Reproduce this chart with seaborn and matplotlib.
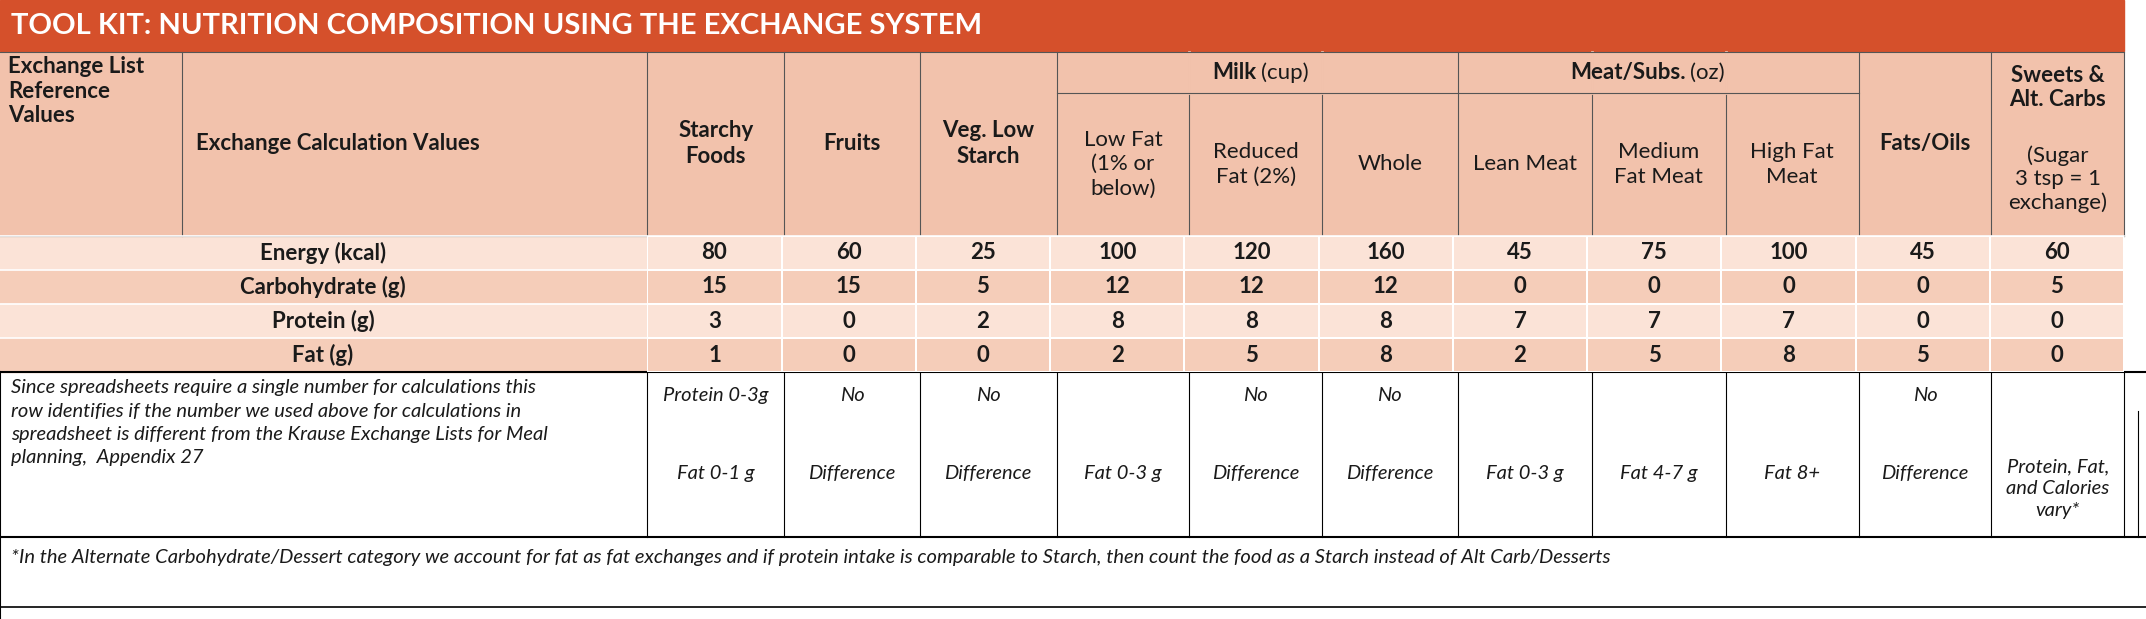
import matplotlib.pyplot as plt
import seaborn as sns
import numpy as np
from matplotlib.colors import ListedColormap
from matplotlib.patches import Rectangle

plt.rcParams['font.family'] = 'Lato'

# data
columns = ['Starchy\nFoods', 'Fruits', 'Veg. Low\nStarch', 'Low Fat\n(1% or\nbelow)', 'Reduced\nFat (2%)',
           'Whole', 'Lean Meat', 'Medium\nFat Meat', 'High Fat\nMeat', 'Fats/Oils', 'Sweets']
row_labels = ['Energy (kcal)', 'Carbohydrate (g)', 'Protein (g)', 'Fat (g)']
energy = [80, 60, 25, 100, 120, 160, 45, 75, 100, 45, 60]
carbs = [15, 15, 5, 12, 12, 12, 0, 0, 0, 0, 5]
protein = [3, 0, 2, 8, 8, 8, 7, 7, 7, 0, 0]
fat = [1, 0, 0, 2, 5, 8, 2, 5, 8, 5, 0]
note_top = ['Protein 0-3g', 'No', 'No', '', 'No', 'No', '', '', '', 'No', '']
note_bottom = ['Fat 0-1 g', 'Difference', 'Difference', 'Fat 0-3 g', 'Difference', 'Difference',
               'Fat 0-3 g', 'Fat 4-7 g', 'Fat 8+', 'Difference', '']

W, H = 1568, 452
col_x = [473, 573, 672, 772, 869, 966, 1065, 1163, 1261, 1358, 1455, 1552]
ORANGE = '#D5502B'
HEAD = '#F2C2AC'
LIGHT = '#FBE3D7'
DARK = '#F5CDB9'
TXT = '#1a1a1a'
FS = 16
FN = 14.5

fig = plt.figure(figsize=(21.46, 6.19), dpi=100)
ax = fig.add_axes([0, 0, 1, 1])
ax.set_xlim(0, W)
ax.set_ylim(H, 0)
ax.axis('off')

# title bar
ax.add_patch(Rectangle((0, 0), 1552, 37, color=ORANGE))
ax.text(8, 19, 'TOOL KIT: NUTRITION COMPOSITION USING THE EXCHANGE SYSTEM', color='white',
        fontsize=21, fontweight='bold', va='center')

# header
ax.add_patch(Rectangle((0, 38), 1552, 134, facecolor=HEAD, edgecolor='none'))
lc = '#555555'
for x in [133] + col_x:
    ax.plot([x, x], [38, 172], color=lc, lw=0.8)
for x in [869, 966, 1163, 1261]:
    ax.plot([x, x], [38, 68], color=HEAD, lw=2)
ax.plot([772, 1358], [68, 68], color=lc, lw=0.8)
ax.plot([0, 1552], [38, 38], color=lc, lw=0.8)
ax.plot([0, 1552], [172, 172], color=lc, lw=0.8)

ax.text(6, 41, 'Exchange List\nReference\nValues', fontsize=FS, fontweight='bold', va='top',
        color=TXT, linespacing=1.2)
ax.text(143, 105, 'Exchange Calculation Values', fontsize=FS, fontweight='bold', va='center', color=TXT)
ax.text(918, 53, 'Milk', fontsize=FS, fontweight='bold', ha='right', va='center', color=TXT)
ax.text(921, 53, '(cup)', fontsize=FS, ha='left', va='center', color=TXT)
ax.text(1232, 53, 'Meat/Subs.', fontsize=FS, fontweight='bold', ha='right', va='center', color=TXT)
ax.text(1235, 53, '(oz)', fontsize=FS, ha='left', va='center', color=TXT)
bold_cols = {0, 1, 2, 9}
for i, name in enumerate(columns[:-1]):
    cx = (col_x[i] + col_x[i + 1]) / 2
    cy = 105 if i in bold_cols else 120
    ax.text(cx, cy, name, ha='center', va='center', fontsize=FS, color=TXT, linespacing=1.3,
            fontweight='bold' if i in bold_cols else 'normal')
cx = (col_x[10] + col_x[11]) / 2
ax.text(cx, 64, 'Sweets &\nAlt. Carbs', ha='center', va='center', fontsize=FS, fontweight='bold',
        color=TXT, linespacing=1.2)
ax.text(cx, 131, '(Sugar\n3 tsp = 1\nexchange)', ha='center', va='center', fontsize=FS,
        color=TXT, linespacing=1.2)

# numeric block as heatmap
vals = np.array([energy, carbs, protein, fat])
shade = np.array([[i % 2] * len(energy) for i in range(4)])
for i, lab in enumerate(row_labels):
    ax.add_patch(Rectangle((0, 172 + 25 * i), 473, 25, color=[LIGHT, DARK][i % 2]))
    ax.text(236, 184.5 + 25 * i, lab, ha='center', va='center', fontsize=FS, fontweight='bold', color=TXT)
    ax.plot([0, 1552], [172 + 25 * i, 172 + 25 * i], color='white', lw=1.2)
hax = fig.add_axes([473 / W, 1 - 272 / H, 1079 / W, 100 / H])
sns.heatmap(shade, ax=hax, cmap=ListedColormap([LIGHT, DARK]), cbar=False, annot=vals, fmt='d',
            annot_kws={'fontsize': FS, 'fontweight': 'bold', 'color': TXT},
            linewidths=1.2, linecolor='white', xticklabels=False, yticklabels=False)
hax.axis('off')

# note row
ax.plot([0, 1568], [272, 272], color='black', lw=1.5)
ax.plot([0, 1568], [392, 392], color='black', lw=1.5)
for x in [473] + col_x[1:]:
    ax.plot([x, x], [272, 392], color='black', lw=0.8)
ax.plot([1562, 1562], [300, 392], color='black', lw=0.8)
ax.text(8, 277, 'Since spreadsheets require a single number for calculations this\n'
        'row identifies if the number we used above for calculations in\n'
        'spreadsheet is different from the Krause Exchange Lists for Meal\n'
        'planning,  Appendix 27', fontsize=FN, style='italic', va='top', color=TXT, linespacing=1.45)
for i in range(11):
    cx = (col_x[i] + col_x[i + 1]) / 2
    if note_top[i]:
        ax.text(cx, 289, note_top[i], ha='center', va='center', fontsize=FN, style='italic', color=TXT)
    if note_bottom[i]:
        ax.text(cx, 346, note_bottom[i], ha='center', va='center', fontsize=FN, style='italic', color=TXT)
ax.text(cx, 357, 'Protein, Fat,\nand Calories\nvary*', ha='center', va='center', fontsize=FN,
        style='italic', color=TXT, linespacing=1.35)

# footnote
ax.plot([0, 0], [272, 452], color='black', lw=1.5)
ax.plot([0, 1568], [443, 443], color='black', lw=1.2)
ax.text(8, 407, '*In the Alternate Carbohydrate/Dessert category we account for fat as fat exchanges and if '
        'protein intake is comparable to Starch, then count the food as a Starch instead of Alt Carb/Desserts',
        fontsize=FN, style='italic', va='center', color=TXT)

fig.savefig('out.png', dpi=100)
